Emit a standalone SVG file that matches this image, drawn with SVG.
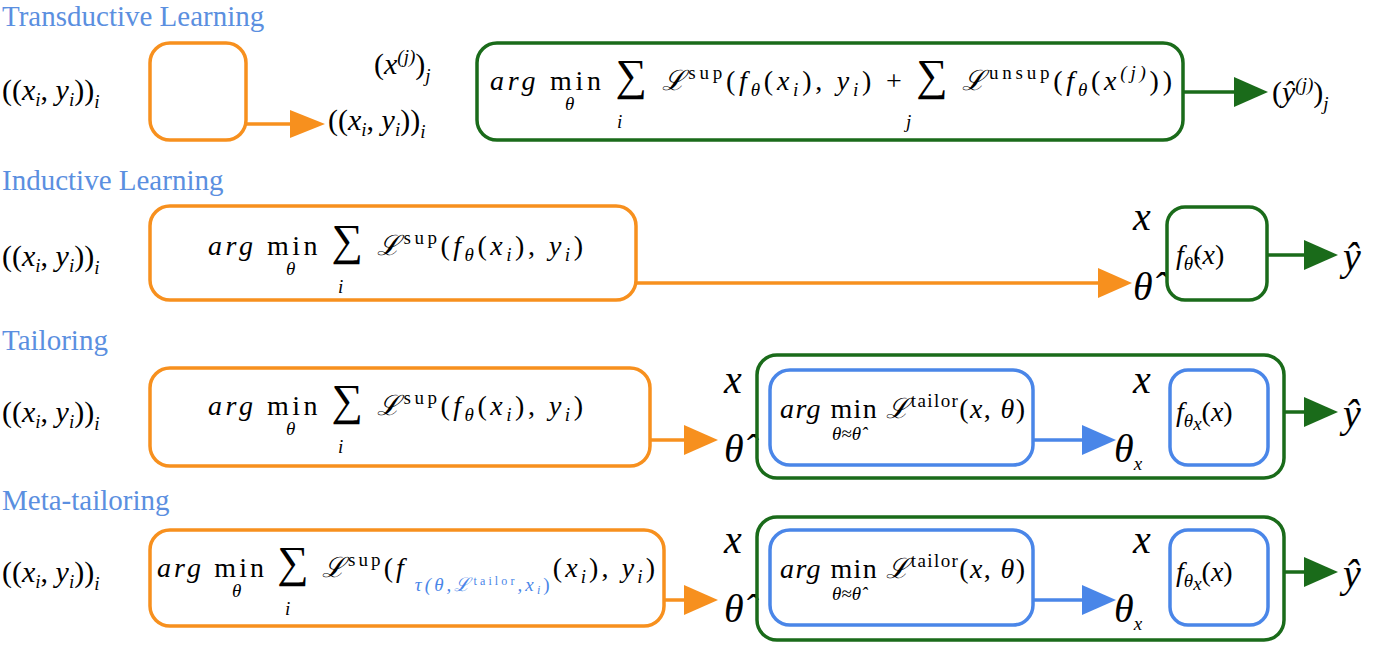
<svg xmlns="http://www.w3.org/2000/svg" width="1376" height="654" viewBox="0 0 1376 654">
<style>
text{font-family:"Liberation Serif","DejaVu Serif","Times New Roman",serif}
.t{font-size:29px;fill:#5b8fe0}
.m{font-style:italic;font-size:28px;fill:#000}
.l{font-style:italic;font-size:30px;fill:#000}
.s{font-style:italic;font-size:19px}
.r{font-style:normal}
.big{font-style:italic;font-size:40px;fill:#000}
.hat{font-style:normal;fill:#000}
.o{fill:none;stroke:#f7901e;stroke-width:3.5}
.g{fill:none;stroke:#1a6b1a;stroke-width:3.5}
.b{fill:none;stroke:#4a86e8;stroke-width:3.5}
.ao{stroke:#f7901e;stroke-width:3.5}
.ag{stroke:#1a6b1a;stroke-width:3.5}
.ab{stroke:#4a86e8;stroke-width:3.5}
</style>
<g id="titles">
<text class="t" x="2" y="26">Transductive Learning</text>
<text class="t" x="2" y="190">Inductive Learning</text>
<text class="t" x="2" y="350">Tailoring</text>
<text class="t" x="2" y="510">Meta-tailoring</text>
</g>
<g id="connectors">
<line class="ao" x1="246" y1="124" x2="292" y2="124"/><polygon points="290,110 325,124 290,138" fill="#f7901e"/>
<line class="ag" x1="1183" y1="92" x2="1236" y2="92"/><polygon points="1234,77 1268,92 1234,107" fill="#1a6b1a"/>
<line class="ao" x1="636" y1="283" x2="1100" y2="283"/><polygon points="1098,268 1132,283 1098,298" fill="#f7901e"/>
<line class="ag" x1="1267" y1="255" x2="1306" y2="255"/><polygon points="1304,240 1338,255 1304,270" fill="#1a6b1a"/>
<line class="ao" x1="650" y1="440" x2="686" y2="440"/><polygon points="684,425 718,440 684,455" fill="#f7901e"/>
<line class="ab" x1="1033" y1="440" x2="1084" y2="440"/><polygon points="1082,425 1116,440 1082,455" fill="#4a86e8"/>
<line class="ag" x1="1284" y1="412" x2="1306" y2="412"/><polygon points="1304,397 1338,412 1304,427" fill="#1a6b1a"/>
<line class="ao" x1="664" y1="600" x2="686" y2="600"/><polygon points="684,585 718,600 684,615" fill="#f7901e"/>
<line class="ab" x1="1033" y1="600" x2="1084" y2="600"/><polygon points="1082,585 1116,600 1082,615" fill="#4a86e8"/>
<line class="ag" x1="1284" y1="572" x2="1306" y2="572"/><polygon points="1304,557 1338,572 1304,587" fill="#1a6b1a"/>
</g>
<g id="row1">
<text class="l" x="2" y="100"><tspan class="r">((</tspan>x<tspan class="s" dy="6">i</tspan><tspan dy="-6" class="r">, </tspan>y<tspan class="s" dy="6">i</tspan><tspan dy="-6" class="r">))</tspan><tspan class="s" dy="8">i</tspan></text>
<rect id="n1" class="o" x="150" y="43" width="96" height="97" rx="20"/>
<text class="l" x="328" y="130"><tspan class="r">((</tspan>x<tspan class="s" dy="6">i</tspan><tspan dy="-6" class="r">, </tspan>y<tspan class="s" dy="6">i</tspan><tspan dy="-6" class="r">))</tspan><tspan class="s" dy="8">i</tspan></text>
<text class="l" x="374" y="74"><tspan class="r">(</tspan>x<tspan class="s" dy="-11" font-size="18">(j)</tspan><tspan class="r" dy="11">)</tspan><tspan class="s" dy="8">j</tspan></text>
<rect id="n2" class="g" x="477" y="43" width="706" height="97" rx="20"/>
<text class="m" x="490" y="90" textLength="682">arg <tspan class="r">min</tspan> <tspan class="r" font-size="44">∑</tspan> ℒ<tspan class="s r" dy="-11">sup</tspan><tspan class="r" dy="11">(</tspan>f<tspan class="s" dy="6">θ</tspan><tspan class="r" dy="-6">(</tspan>x<tspan class="s" dy="6">i</tspan><tspan class="r" dy="-6">), </tspan>y<tspan class="s" dy="6">i</tspan><tspan class="r" dy="-6">) + </tspan><tspan class="r" font-size="44">∑</tspan> ℒ<tspan class="s r" dy="-11">unsup</tspan><tspan class="r" dy="11">(</tspan>f<tspan class="s" dy="6">θ</tspan><tspan class="r" dy="-6">(</tspan>x<tspan class="s" dy="-11" font-size="18">(j)</tspan><tspan class="r" dy="11">))</tspan></text>
<text class="s" x="565" y="110">θ</text><text class="s" x="617" y="128">i</text><text class="s" x="906" y="128">j</text>
<text class="l" x="1272" y="102"><tspan class="r">(</tspan>ŷ<tspan class="s" dy="-11" font-size="18">(j)</tspan><tspan class="r" dy="11">)</tspan><tspan class="s" dy="8">j</tspan></text>
</g>
<g id="row2">
<text class="l" x="2" y="266"><tspan class="r">((</tspan>x<tspan class="s" dy="6">i</tspan><tspan dy="-6" class="r">, </tspan>y<tspan class="s" dy="6">i</tspan><tspan dy="-6" class="r">))</tspan><tspan class="s" dy="8">i</tspan></text>
<rect id="n3" class="o" x="150" y="206" width="486" height="94" rx="20"/>
<text class="m" x="208" y="255" textLength="375">arg <tspan class="r">min</tspan> <tspan class="r" font-size="44">∑</tspan> ℒ<tspan class="s r" dy="-11">sup</tspan><tspan class="r" dy="11">(</tspan>f<tspan class="s" dy="6">θ</tspan><tspan class="r" dy="-6">(</tspan>x<tspan class="s" dy="6">i</tspan><tspan class="r" dy="-6">), </tspan>y<tspan class="s" dy="6">i</tspan><tspan class="r" dy="-6">)</tspan></text>
<text class="s" x="286" y="275">θ</text><text class="s" x="338" y="293">i</text>
<text class="big" x="1133" y="230">x</text><text class="big" x="1133" y="300">θ̂</text>
<rect id="n4" class="g" x="1167" y="207" width="100" height="93" rx="18"/>
<text class="m" x="1176" y="264" font-size="22">f<tspan class="s" dy="6" font-size="15">θ̂</tspan><tspan class="r" dy="-6">(</tspan>x<tspan class="r">)</tspan></text>
<text class="big" x="1343" y="270">ŷ</text>
</g>
<g id="row3">
<text class="l" x="2" y="422"><tspan class="r">((</tspan>x<tspan class="s" dy="6">i</tspan><tspan dy="-6" class="r">, </tspan>y<tspan class="s" dy="6">i</tspan><tspan dy="-6" class="r">))</tspan><tspan class="s" dy="8">i</tspan></text>
<rect id="n5" class="o" x="150" y="368" width="500" height="98" rx="20"/>
<text class="m" x="208" y="415" textLength="375">arg <tspan class="r">min</tspan> <tspan class="r" font-size="44">∑</tspan> ℒ<tspan class="s r" dy="-11">sup</tspan><tspan class="r" dy="11">(</tspan>f<tspan class="s" dy="6">θ</tspan><tspan class="r" dy="-6">(</tspan>x<tspan class="s" dy="6">i</tspan><tspan class="r" dy="-6">), </tspan>y<tspan class="s" dy="6">i</tspan><tspan class="r" dy="-6">)</tspan></text>
<text class="s" x="286" y="435">θ</text><text class="s" x="338" y="453">i</text>
<text class="big" x="724" y="393">x</text><text class="big" x="724" y="462">θ̂</text>
<g id="n6">
<rect class="g" x="757" y="355" width="527" height="123" rx="20"/>
<rect class="b" x="770" y="370" width="263" height="95" rx="20"/>
<text class="m" x="780" y="418" textLength="245">arg <tspan class="r">min</tspan> ℒ<tspan class="s r" dy="-11">tailor</tspan><tspan class="r" dy="11">(</tspan>x<tspan class="r">, </tspan>θ<tspan class="r">)</tspan></text>
<text class="s" x="832" y="440" font-size="16">θ≈θ̂</text>
<text class="big" x="1133" y="393">x</text>
<text class="big" x="1114" y="462">θ<tspan class="s" dy="8" font-size="28">x</tspan></text>
<rect class="b" x="1170" y="370" width="98" height="95" rx="18"/>
<text class="m" x="1176" y="421" font-size="23">f<tspan class="s" dy="6" font-size="15">θ</tspan><tspan class="s" dy="3" font-size="11">x</tspan><tspan class="r" dy="-9">(</tspan>x<tspan class="r">)</tspan></text>
</g>
<text class="big" x="1343" y="427">ŷ</text>
</g>
<g id="row4">
<text class="l" x="2" y="582"><tspan class="r">((</tspan>x<tspan class="s" dy="6">i</tspan><tspan dy="-6" class="r">, </tspan>y<tspan class="s" dy="6">i</tspan><tspan dy="-6" class="r">))</tspan><tspan class="s" dy="8">i</tspan></text>
<rect id="n7" class="o" x="150" y="530" width="514" height="96" rx="20"/>
<text class="m" x="157" y="577" textLength="498">arg <tspan class="r">min</tspan> <tspan class="r" font-size="44">∑</tspan> ℒ<tspan class="s r" dy="-11">sup</tspan><tspan class="r" dy="11">(</tspan>f<tspan class="s" dy="14" font-size="17" fill="#4a86e8"> τ(θ,ℒ<tspan class="r" dy="-6" font-size="12">tailor</tspan><tspan dy="6">,x</tspan><tspan dy="3" font-size="12">i</tspan><tspan dy="-3" class="r">)</tspan></tspan><tspan class="r" dy="-14">(</tspan>x<tspan class="s" dy="6">i</tspan><tspan class="r" dy="-6">), </tspan>y<tspan class="s" dy="6">i</tspan><tspan class="r" dy="-6">)</tspan></text>
<text class="s" x="232" y="597">θ</text><text class="s" x="285" y="615">i</text>
<text class="big" x="724" y="553">x</text><text class="big" x="724" y="622">θ̂</text>
<g id="n8">
<rect class="g" x="757" y="517" width="527" height="123" rx="20"/>
<rect class="b" x="770" y="530" width="263" height="95" rx="20"/>
<text class="m" x="780" y="578" textLength="245">arg <tspan class="r">min</tspan> ℒ<tspan class="s r" dy="-11">tailor</tspan><tspan class="r" dy="11">(</tspan>x<tspan class="r">, </tspan>θ<tspan class="r">)</tspan></text>
<text class="s" x="832" y="600" font-size="16">θ≈θ̂</text>
<text class="big" x="1133" y="553">x</text>
<text class="big" x="1114" y="622">θ<tspan class="s" dy="8" font-size="28">x</tspan></text>
<rect class="b" x="1170" y="530" width="98" height="95" rx="18"/>
<text class="m" x="1176" y="581" font-size="23">f<tspan class="s" dy="6" font-size="15">θ</tspan><tspan class="s" dy="3" font-size="11">x</tspan><tspan class="r" dy="-9">(</tspan>x<tspan class="r">)</tspan></text>
</g>
<text class="big" x="1343" y="587">ŷ</text>
</g>
</svg>
